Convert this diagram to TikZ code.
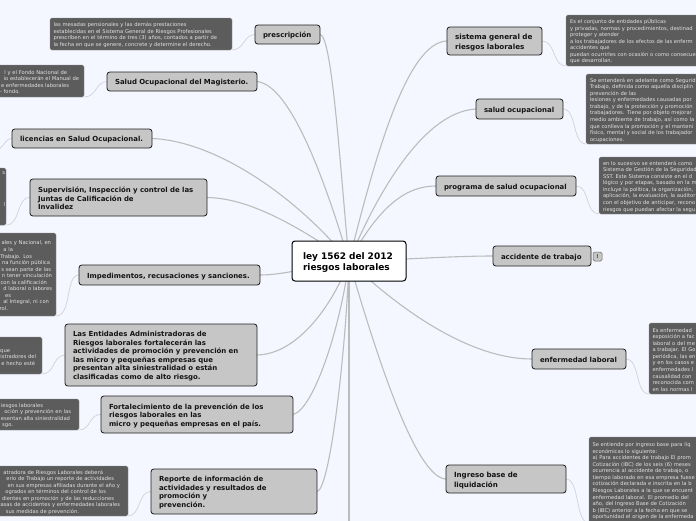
\documentclass[tikz,border=0pt]{standalone}
\usepackage{fontspec}
\setmainfont{DejaVu Sans}
\usetikzlibrary{backgrounds}
\definecolor{bgc}{HTML}{F4F7FF}
\definecolor{topicfill}{HTML}{C6C6C6}
\definecolor{notefill}{HTML}{5C5C5C}
\definecolor{notetext}{HTML}{E2E2E2}
\definecolor{wire}{HTML}{BCBCBC}
\definecolor{thinwire}{HTML}{D2D2D6}
\tikzset{
  base/.style={rectangle,outer sep=0pt,inner ysep=0pt,align=left},
  topic/.style={base,draw=black!88,line width=0.8pt,fill=topicfill,rounded corners=2.8pt,text=black!92,
    font=\bfseries\fontsize{6.95}{8.5}\selectfont,execute at begin node={\rule{0pt}{7.6pt}}},
  bigtopic/.style={topic,font=\bfseries\fontsize{7.2}{9.4}\selectfont,execute at begin node={\rule{0pt}{8.2pt}}},
  widetopic/.style={topic,font=\bfseries\fontsize{7.1}{10}\selectfont},
  root/.style={base,draw=black,line width=1pt,fill=white,rounded corners=3pt,text=black,
    font=\bfseries\fontsize{9}{11}\selectfont,execute at begin node={\rule{0pt}{9pt}}},
  note/.style={base,draw=black!45,line width=0.3pt,fill=notefill,rounded corners=1.6pt,text=notetext,
    font=\fontsize{5.2}{6.55}\selectfont,execute at begin node={\rule{0pt}{6.4pt}}},
  badge/.style={rectangle,outer sep=0pt,inner sep=0pt,draw=black!60,line width=0.5pt,fill=topicfill,rounded corners=1.5pt,
    minimum width=9pt,minimum height=9pt,text=black!80,font=\bfseries\fontsize{5}{6}\selectfont},
  branch/.style={draw=wire,line width=1.1pt},
  trunk/.style={draw=wire,line width=1.7pt},
  twig/.style={draw=thinwire,line width=0.7pt}
}
\newcommand\mmbox[8]{%
  \pgfmathsetmacro\mmw{#5-#3-2*#7}%
  \pgfmathsetmacro\mmh{#6-#4}%
  \node[#1,anchor=north west,text width=\mmw pt,inner xsep=#7pt,minimum height=\mmh pt] (#2) at (#3,#4) {#8};%
}
\newcommand\cutline[2]{\makebox[#1pt][r]{#2}}
\begin{document}
\begin{tikzpicture}[x=1pt,y=-1pt]
\useasboundingbox (0,0) rectangle (696,520);
\clip (0,0) rectangle (696,520);
% root and main topics
\mmbox{root}{c}{292}{241}{406}{281}{11}{ley 1562 del 2012\\riesgos laborales}
\mmbox{topic}{pres}{255}{25}{320}{44}{8}{prescripción}
\mmbox{topic}{mag}{107}{72}{257}{91}{8}{Salud Ocupacional del Magisterio.}
\mmbox{topic}{lic}{12}{129}{152}{148}{8}{licencias en Salud Ocupacional.}
\mmbox{topic}{sup}{30}{179}{207}{216}{8}{Supervisión, Inspección y control de las\\Juntas de Calificación de\\Invalidez}
\mmbox{topic}{imp}{79}{265}{260}{285}{8}{Impedimentos, recusaciones y sanciones.}
\mmbox{topic}{ent}{65}{324}{257}{386}{8}{Las Entidades Administradoras de\\Riesgos laborales fortalecerán las\\actividades de promoción y prevención en\\las micro y pequeñas empresas que\\presentan alta siniestralidad o están\\clasificadas como de alto riesgo.}
\mmbox{topic}{fort}{101}{396}{293}{433}{8}{Fortalecimiento de la prevención de los\\riesgos laborales en las\\micro y pequeñas empresas en el país.}
\mmbox{topic}{rep}{151}{469}{317}{514}{8}{Reporte de información de\\actividades y resultados de\\promoción y\\prevención.}
\mmbox{bigtopic}{sis}{447}{27}{542}{55}{8}{\mbox{sistema general de}\\riesgos laborales}
\mmbox{topic}{ocu}{476}{99}{563}{119}{8}{salud ocupacional}
\mmbox{topic}{pro}{436}{176}{576}{196}{8}{programa de salud ocupacional}
\mmbox{topic}{acc}{493}{246}{591}{266}{8}{accidente de trabajo}
\mmbox{topic}{enf}{532}{349}{626}{369}{8}{enfermedad laboral}
\mmbox{widetopic}{ing}{446}{465}{566}{493}{8}{Ingreso base de\\liquidación}
\node[badge] (acb) at (597.5,256.5) {!};
% notes on the left
\mmbox{note}{n1}{50}{18}{232}{50}{3.5}{las mesadas pensionales y las demás prestaciones\\establecidas en el Sistema General de Riesgos Profesionales\\prescriben en el término de tres (3) años, contados a partir de\\la fecha en que se genere, concrete y determine el derecho.}
\mmbox{note}{n2}{-10}{65}{84}{97}{10}{\cutline{67}{l y el Fondo Nacional de}\\\cutline{79}{io establecerán el Manual de}\\\cutline{69}{e enfermedades laborales}\\\cutline{20}{- fondo.}}
\mmbox{note}{n4}{-10}{168}{6}{225}{10}{\cutline{5}{s}\\[25.6pt]\cutline{5}{l}\\[12pt]\mbox{}}
\mmbox{note}{n5}{-10}{233}{56}{316}{10}{\cutline{51}{ales y Nacional, en}\\\cutline{13}{a la}\\\cutline{32}{Trabajo. Los}\\\cutline{50}{na función pública}\\\cutline{51}{s sean parte de las}\\\cutline{52}{n tener vinculación}\\\cutline{47}{con la calificación}\\\cutline{52}{d laboral o labores}\\\cutline{11}{es}\\\cutline{49}{al Integral, ni con}\\\cutline{8}{rol.}}
\mmbox{note}{n6}{-10}{337}{42}{374}{10}{\cutline{10}{que}\\\cutline{36}{istradores del}\\\cutline{35}{e hecho esté}}
\mmbox{note}{n7}{-10}{399}{79}{430}{10}{\cutline{43}{iesgos laborales}\\\cutline{71}{oción y prevención en las}\\\cutline{70}{esentan alta siniestralidad}\\\cutline{13}{sgo.}}
\mmbox{note}{n8}{-10}{466}{128}{516}{10}{\cutline{103}{atradora de Riesgos Laborales deberá}\\\cutline{114}{erio de Trabajo un reporte de actividades}\\\cutline{120}{en sus empresas afiliadas durante el año y}\\\cutline{106}{ogrados en términos del control de los}\\\cutline{114}{dientes en promoción y de las reducciones}\\\cutline{120}{tasas de accidentes y enfermedades laborales}\\\cutline{79}{sus medidas de prevención.}}
% notes on the right
\mmbox{note}{n9}{566}{15}{760}{66}{4}{Es el conjunto de entidades pÚblicas\\y privadas, normas y procedimientos, destinad\\proteger y atender\\a los trabajadores de los efectos de las enferm\\accidentes que\\puedan ocurrirles con ocasión o como consecue\\que desarrollan.}
\mmbox{note}{n10}{586}{74}{760}{144}{4}{Se entenderá en adelante como Segurid\\Trabajo, definida como aquella disciplin\\prevención de las\\lesiones y enfermedades causadas por\\trabajo, y de la protección y promoción\\trabajadores. Tiene por objeto mejorar\\medio ambiente de trabajo, así como la\\que conlleva la promoción y el manteni\\físico, mental y social de los trabajador\\ocupaciones.}
\mmbox{note}{n11}{599}{157}{760}{214}{4}{en lo sucesivo se entenderá como\\Sistema de Gestión de la Seguridad\\SST. Este Sistema consiste en el d\\lógico y por etapas, basado en la m\\incluye la política, la organización,\\aplicación, la evaluación, la auditor\\con el objetivo de anticipar, recono\\riesgos que puedan afectar la segu}
\mmbox{note}{n12}{649}{323}{760}{394}{3.5}{Es enfermedad\\exposición a fac\\laboral o del me\\a trabajar. El Go\\periódica, las en\\y en los casos e\\enfermedades l\\causalidad con\\reconocida com\\en las normas l}
\mmbox{note}{n13}{589}{437}{760}{523}{3.5}{Se entiende por ingreso base para liq\\económicas lo siguiente:\\a) Para accidentes de trabajo El prom\\Cotización (IBC) de los seis (6) meses\\ocurrencia al accidente de trabajo, o\\tiempo laborado en esa empresa fuese\\cotización declarada e inscrita en la b\\Riesgos Laborales a la que se encuent\\enfermedad laboral. El promedio del\\año, del Ingreso Base de Cotización\\b (IBC) anterior a la fecha en que se\\oportunidad el origen de la enfermeda}
\coordinate (licfree) at (-6,150);
\coordinate (bottomfree) at (349,525);
\begin{pgfonlayer}{background}
\fill[bgc] (-20,-20) rectangle (800,560);
% branches from the root
\draw[branch] (c.center) .. controls (340,165) and (332,35) .. (pres.east);
\draw[branch] (c.center) .. controls (328,190) and (292,85) .. (mag.east);
\draw[branch] (c.center) .. controls (295,195) and (215,141) .. (lic.east);
\draw[branch] (c.center) .. controls (310,235) and (255,198) .. (sup.east);
\draw[branch] (c.center) .. controls (320,265) and (285,275) .. (imp.east);
\draw[branch] (c.center) .. controls (335,300) and (300,354) .. (ent.east);
\draw[branch] (c.center) .. controls (340,330) and (313,410) .. (fort.east);
\draw[branch] (c.center) .. controls (346,350) and (330,490) .. (rep.east);
\draw[trunk] (c.center) -- (bottomfree);
\draw[branch] (c.center) .. controls (372,170) and (405,42) .. (sis.west);
\draw[branch] (c.center) .. controls (372,205) and (420,112) .. (ocu.west);
\draw[branch] (c.center) .. controls (375,215) and (400,186) .. (pro.west);
\draw[branch] (c.center) .. controls (400,260) and (450,256) .. (acc.west);
\draw[branch] (c.center) .. controls (400,310) and (470,359) .. (enf.west);
\draw[branch] (c.center) .. controls (375,350) and (415,478) .. (ing.west);
% twigs to the notes
\draw[twig] (pres.west) .. controls (243,35) and (245,49.5) .. (n1.south east);
\draw[twig] (mag.west) .. controls (95,82) and (97,97) .. (n2.south east);
\draw[twig] (lic.west) .. controls (3,139) and (5,150) .. (licfree);
\draw[twig] (sup.west) .. controls (16,197) and (21,225) .. (n4.south east);
\draw[twig] (imp.west) .. controls (65,275) and (72,316) .. (n5.south east);
\draw[twig] (ent.west) .. controls (52,356) and (55,374) .. (n6.south east);
\draw[twig] (fort.west) .. controls (89,414) and (91,430) .. (n7.south east);
\draw[twig] (rep.west) .. controls (138,491) and (141,516) .. (n8.south east);
\draw[twig] (sis.east) .. controls (556,41) and (552,66) .. (n9.south west);
\draw[twig] (ocu.east) .. controls (577,109) and (572,144) .. (n10.south west);
\draw[twig] (pro.east) .. controls (590,186) and (585,214) .. (n11.south west);
\draw[twig] (enf.east) .. controls (640,359) and (635,394) .. (n12.south west);
\draw[twig] (ing.east) .. controls (580,479) and (575,523) .. (n13.south west);
\end{pgfonlayer}
\end{tikzpicture}
\end{document}
